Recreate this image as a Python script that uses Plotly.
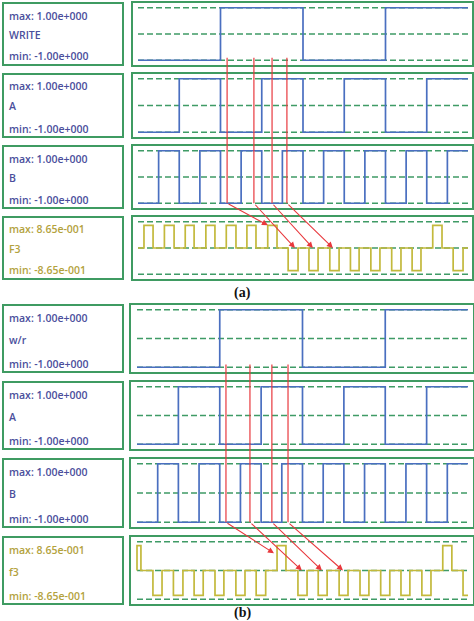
import plotly.graph_objects as go

W, H = 474, 621

# ---------------- data (time in half-periods of B) ----------------
T_END = 16
write_t = [0, 4, 8, 12, 16]
write_v = [-1, 1, -1, 1, 1]
a_t = [0, 2, 4, 6, 8, 10, 12, 14, 16]
a_v = [-1, 1, -1, 1, -1, 1, -1, 1, 1]
b_t = [0, 1, 2, 3, 4, 5, 6, 7, 8, 9, 10, 11, 12, 13, 14, 15, 16]
b_v = [-1, 1, -1, 1, -1, 1, -1, 1, -1, 1, -1, 1, -1, 1, -1, 1, 1]
f3_amp = 0.865

# F3 of panel (a): pulse start / end / polarity
f3a_start = [0.29, 1.28, 2.29, 3.29, 4.28, 5.28, 6.29, 7.28, 8.29, 9.30, 10.30, 11.29, 12.30, 13.29, 14.29, 15.28]
f3a_end = [0.73, 1.75, 2.72, 3.73, 4.75, 5.72, 6.74, 7.76, 8.73, 9.75, 10.72, 11.73, 12.75, 13.72, 14.74, 15.76]
f3a_sign = [1, 1, 1, 1, 1, 1, 1, -1, -1, -1, -1, -1, -1, -1, 1, -1]

# f3 of panel (b)
f3b_start = [0.0, 0.77, 1.76, 2.76, 3.77, 4.78, 5.76, 6.77, 7.78, 8.76, 9.77, 10.78, 11.78, 12.76, 13.77, 14.78, 15.76]
f3b_end = [0.19, 1.21, 2.22, 3.20, 4.20, 5.22, 6.22, 7.20, 8.22, 9.19, 10.20, 11.21, 12.22, 13.19, 14.21, 15.22, 16.0]
f3b_sign = [1, -1, -1, -1, -1, -1, -1, 1, -1, -1, -1, -1, -1, -1, -1, 1, -1]

labels_a = [("max: 1.00e+000", "WRITE", "min: -1.00e+000"),
            ("max: 1.00e+000", "A", "min: -1.00e+000"),
            ("max: 1.00e+000", "B", "min: -1.00e+000"),
            ("max: 8.65e-001", "F3", "min: -8.65e-001")]
labels_b = [("max: 1.00e+000", "w/r", "min: -1.00e+000"),
            ("max: 1.00e+000", "A", "min: -1.00e+000"),
            ("max: 1.00e+000", "B", "min: -1.00e+000"),
            ("max: 8.65e-001", "f3", "min: -8.65e-001")]

# red timing markers: vertical line time, arrow head time, arrow head level
mark_a_t = [4.32, 5.62, 6.50, 7.22]
head_a_t = [6.30, 7.61, 8.48, 9.45]
head_a_v = [0.865, 0, 0, 0]
mark_b_t = [4.30, 5.46, 6.52, 7.30]
head_b_t = [6.62, 7.97, 8.94, 9.96]
head_b_v = [0.6, 0, 0, 0]

# ---------------- styling / geometry ----------------
GREEN = "#3f9b62"
DASH_GREEN = "#3f9b66"
BLUE_LINE = "#4a6fc0"
YEL_LINE = "#c3b93c"
BLUE_TXT = "#4a4f9c"
YEL_TXT = "#b3a23d"
RED = "#e8383d"

panels = [
    dict(tops=[3, 74, 146, 217], bots=[65, 137, 208, 279], bx=(133, 472), wx=(138, 468)),
    dict(tops=[305, 382, 459, 537], bots=[372, 449, 527, 604], bx=(131, 473), wx=(137, 468)),
]


def pulse_train(starts, ends, signs, amp):
    t, v = [0], [0]
    for s, e, p in zip(starts, ends, signs):
        t.append(s); v.append(p * amp)
        if e >= T_END:
            t.append(T_END); v.append(p * amp)
        else:
            t.append(e); v.append(0)
    if t[-1] < T_END:
        t.append(T_END); v.append(v[-1])
    return t, v


signals = [
    [(write_t, write_v, BLUE_LINE), (a_t, a_v, BLUE_LINE), (b_t, b_v, BLUE_LINE),
     (*pulse_train(f3a_start, f3a_end, f3a_sign, f3_amp), YEL_LINE)],
    [(write_t, write_v, BLUE_LINE), (a_t, a_v, BLUE_LINE), (b_t, b_v, BLUE_LINE),
     (*pulse_train(f3b_start, f3b_end, f3b_sign, f3_amp), YEL_LINE)],
]
labels = [labels_a, labels_b]

fig = go.Figure()
layout = dict(width=W, height=H, margin=dict(l=0, r=0, t=0, b=0),
              paper_bgcolor="white", plot_bgcolor="white", showlegend=False)
shapes, annotations = [], []
geo = {}

for p, pan in enumerate(panels):
    bx0, bx1 = pan["bx"]
    wx0, wx1 = pan["wx"]
    ppu = (wx1 - wx0) / T_END
    xr = [-(wx0 - bx0) / ppu, T_END + (bx1 - wx1) / ppu]
    for r in range(4):
        i = p * 4 + r + 1
        top, bot = pan["tops"][r], pan["bots"][r]
        h = bot - top
        R = h / (h - 9.5)
        d0, d1 = 1 - bot / H, 1 - top / H
        geo[i] = (d0, d1, R)
        xs = "" if i == 1 else str(i)
        layout["xaxis" + xs] = dict(domain=[bx0 / W, bx1 / W], range=xr, anchor="y" + xs,
                                    showline=True, mirror=True, linecolor=GREEN, linewidth=2,
                                    showgrid=False, zeroline=False, showticklabels=False, ticks="",
                                    fixedrange=True)
        layout["yaxis" + xs] = dict(domain=[d0, d1], range=[-R, R], anchor="x" + xs,
                                    showline=True, mirror=True, linecolor=GREEN, linewidth=2,
                                    showgrid=False, zeroline=False, showticklabels=False, ticks="",
                                    fixedrange=True)
        for lv in (1, 0, -1):
            fig.add_trace(go.Scatter(x=[0, T_END], y=[lv, lv], mode="lines",
                                     line=dict(color=DASH_GREEN, width=1.5, dash="6px,3px"),
                                     xaxis="x" + xs, yaxis="y" + xs, hoverinfo="skip"))
        st, sv, col = signals[p][r]
        fig.add_trace(go.Scatter(x=st, y=sv, mode="lines", line=dict(color=col, width=1.7, shape="hv"),
                                 xaxis="x" + xs, yaxis="y" + xs, hoverinfo="skip"))
        # left label box
        shapes.append(dict(type="rect", xref="paper", yref="paper", x0=3 / W, x1=123 / W,
                           y0=d0, y1=d1, line=dict(color=GREEN, width=2)))
        tcol = YEL_TXT if r == 3 else BLUE_TXT
        l1, l2, l3 = labels[p][r]
        for txt, ypx in ((l1, top + 12.5), (l2, (top + bot) / 2 + 1), (l3, bot - 8.5)):
            annotations.append(dict(text=txt, x=7 / W, y=1 - ypx / H, xref="paper", yref="paper",
                                    xanchor="left", yanchor="middle", showarrow=False,
                                    font=dict(family="Open Sans", size=10.5, color=tcol, weight=600)))


def to_paper(i, v):
    d0, d1, R = geo[i]
    return d0 + (v + R) / (2 * R) * (d1 - d0)


def paper_to(i, yp):
    d0, d1, R = geo[i]
    return (yp - d0) / (d1 - d0) * 2 * R - R


marks = [(mark_a_t, head_a_t, head_a_v), (mark_b_t, head_b_t, head_b_v)]
for p, (mt, ht, hv) in enumerate(marks):
    i1, i3, i4 = p * 4 + 1, p * 4 + 3, p * 4 + 4
    xs1 = "" if i1 == 1 else str(i1)
    y_start = to_paper(i1, -0.9)
    y_end = to_paper(i3, -1)
    for t0, t1, v1 in zip(mt, ht, hv):
        shapes.append(dict(type="line", xref="x" + xs1, yref="paper", x0=t0, x1=t0,
                           y0=y_start, y1=y_end, line=dict(color=RED, width=1.2)))
        annotations.append(dict(text="", x=t1, y=v1, xref="x%d" % i4, yref="y%d" % i4,
                                ax=t0, ay=paper_to(i4, y_end), axref="x%d" % i4, ayref="y%d" % i4,
                                showarrow=True, arrowhead=2, arrowsize=1.1, arrowwidth=1.1,
                                arrowcolor=RED, standoff=0))

for txt, ypx in (("(a)", 293), ("(b)", 613)):
    annotations.append(dict(text="<b>%s</b>" % txt, x=243 / W, y=1 - ypx / H, xref="paper", yref="paper",
                            xanchor="center", yanchor="middle", showarrow=False,
                            font=dict(family="Liberation Serif", size=14, color="#111111")))

layout["shapes"] = shapes
layout["annotations"] = annotations
fig.update_layout(**layout)
fig.write_html("out.html")
